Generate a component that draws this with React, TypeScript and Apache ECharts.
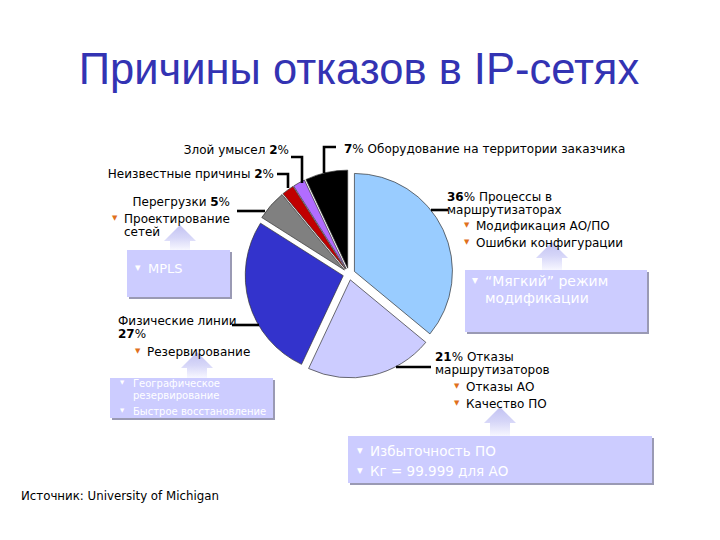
import React, { useEffect, useRef } from "react";
import * as echarts from "echarts";

// ---- chart data ----
const categories = [
  "Процессы в маршрутизаторах",
  "Отказы маршрутизаторов",
  "Физические линии",
  "Перегрузки",
  "Неизвестные причины",
  "Злой умысел",
  "Оборудование на территории заказчика",
];
const labelNames = [
  "Процессы в\nмаршрутизаторах",
  "Отказы\nмаршрутизаторов",
  "Физические линии",
  "Перегрузки",
  "Неизвестные причины",
  "Злой умысел",
  "Оборудование на территории заказчика",
];
const values = [36, 21, 27, 5, 2, 2, 7];
// where the percentage goes relative to the name
const labelPattern = ["pre", "pre", "postBreak", "post", "post", "post", "pre"];
const sliceColors = ["#99ccff", "#ccccff", "#3333cc", "#808080", "#c00000", "#b26cff", "#000000"];

const titleText = "Причины отказов в IP-сетях";
const sourceText = "Источник: University of Michigan";

const bulletLists = [
  { x: 124, y: 220, lines: ["Проектирование", "сетей"] },
  { x: 147, y: 353, lines: ["Резервирование"] },
  { x: 476, y: 227, lines: ["Модификация АО/ПО"] },
  { x: 476, y: 244, lines: ["Ошибки конфигурации"] },
  { x: 466, y: 388, lines: ["Отказы АО"] },
  { x: 466, y: 405, lines: ["Качество ПО"] },
];

const boxes = [
  { x: 127, y: 250, w: 103, h: 47, arrowX: 180, arrowTip: 225, font: 13, items: [["MPLS"]], tx: 148, ty: [268] },
  { x: 110, y: 378, w: 163, h: 40, arrowX: 197, arrowTip: 352, font: 10, items: [["Географическое", "резервирование"], ["Быстрое восстановление"]], tx: 133, ty: [383, 411] },
  { x: 465, y: 270, w: 182, h: 62, arrowX: 552, arrowTip: 242, font: 14, items: [["“Мягкий” режим", "модификации"]], tx: 485, ty: [281] },
  { x: 348, y: 436, w: 304, h: 47, arrowX: 500, arrowTip: 407, font: 13.5, items: [["Избыточность ПО"], ["Кг = 99.999 для АО"]], tx: 370, ty: [451, 471] },
];

// label placement (layout only)
const labelPlace: any[] = [
  { x: 447, y: 190, align: "left", va: "top", line: [[431, 210], [440, 210], [448, 210]] },
  { x: 435, y: 350, align: "left", va: "top", line: [[396, 367], [415, 367], [431, 367]] },
  { x: 118, y: 314, align: "left", va: "top", line: [[259, 325], [245, 325], [232, 325]] },
  { x: 230, y: 202, align: "right", va: "middle", line: [[265, 211], [250, 211], [237, 211]] },
  { x: 274, y: 174, align: "right", va: "middle", line: [[288, 188], [288, 174], [277, 174]] },
  { x: 289, y: 150, align: "right", va: "middle", line: [[302, 183], [302, 157], [291, 157]] },
  { x: 344, y: 149, align: "left", va: "middle", line: [[324, 173], [324, 147], [336, 147]] },
];

const FONT = "DejaVu Sans";

function arrowShape(cx: number, tip: number, bottom: number) {
  const hw = 16, sw = 10, hh = 16;
  return [
    [cx, tip],
    [cx + hw, tip + hh],
    [cx + sw, tip + hh],
    [cx + sw, bottom],
    [cx - sw, bottom],
    [cx - sw, tip + hh],
    [cx - hw, tip + hh],
  ];
}

export default function App() {
  const ref = useRef<HTMLDivElement>(null);
  useEffect(() => {
    if (!ref.current) return;
    const chart = echarts.init(ref.current, undefined, { renderer: "svg" });

    const graphics: any[] = [];
    graphics.push({
      type: "text",
      style: { text: titleText, x: 359, y: 69, align: "center", verticalAlign: "middle", fontSize: 43.5, fontFamily: "Liberation Sans", fill: "#3333b3" },
    });
    graphics.push({
      type: "text",
      style: { text: sourceText, x: 21, y: 496, verticalAlign: "middle", fontSize: 11.8, fontFamily: FONT, fill: "#000" },
    });

    // arrows + boxes
    boxes.forEach((b) => {
      graphics.push({
        type: "polygon",
        shape: { points: arrowShape(b.arrowX, b.arrowTip, b.y) },
        style: {
          fill: new echarts.graphic.LinearGradient(0, 0, 0, 1, [
            { offset: 0, color: "#c2c2f2" },
            { offset: 0.5, color: "#d6d6f8" },
            { offset: 1, color: "#f7f7ff" },
          ]),
        },
        z: 1,
      });
      graphics.push({ type: "rect", shape: { x: b.x + 2, y: b.y + 2, width: b.w, height: b.h }, style: { fill: "#9a9ab4" }, z: 2 });
      graphics.push({ type: "rect", shape: { x: b.x, y: b.y, width: b.w, height: b.h }, style: { fill: "#ccccff" }, z: 3 });
      b.items.forEach((lines, i) => {
        graphics.push({
          type: "text",
          style: { text: "▼", x: b.tx - 13, y: b.ty[i] - 1, verticalAlign: "middle", fontSize: b.font * 0.55, fontFamily: FONT, fill: "#ffffff" },
          z: 4,
        });
        graphics.push({
          type: "text",
          style: { text: lines.join("\n"), x: b.tx, y: b.ty[i] - b.font * 0.6, verticalAlign: "top", fontSize: b.font, lineHeight: b.font * 1.2, fontFamily: FONT, fill: "#ffffff" },
          z: 4,
        });
      });
    });

    // bullet lists
    bulletLists.forEach((bl) => {
      graphics.push({
        type: "text",
        style: { text: "▼", x: bl.x - 12, y: bl.y - 2, verticalAlign: "middle", fontSize: 7, fontFamily: FONT, fill: "#e0701c" },
        z: 5,
      });
      graphics.push({
        type: "text",
        style: { text: bl.lines.join("\n"), x: bl.x, y: bl.y - 7.5, verticalAlign: "top", fontSize: 12, lineHeight: 13, fontFamily: FONT, fill: "#000" },
        z: 5,
      });
    });

    const pieData = categories.map((c, i) => ({ name: c, value: values[i] }));

    chart.setOption({
      animation: false,
      backgroundColor: "#ffffff",
      graphic: graphics,
      series: [
        {
          // exploded slices
          type: "pie",
          center: [349, 274],
          radius: 98,
          startAngle: 90,
          clockwise: true,
          silent: true,
          selectedMode: "multiple",
          selectedOffset: 6,
          itemStyle: { borderColor: "#333", borderWidth: 0.7 },
          select: { itemStyle: { borderColor: "#333", borderWidth: 0.7 } },
          label: { show: false },
          labelLine: { show: false },
          data: pieData.map((d, i) => ({ ...d, selected: true, itemStyle: { color: sliceColors[i] } })),
        },
        {
          // label carrier (same data, invisible slices)
          type: "pie",
          center: [349, 274],
          radius: 98,
          startAngle: 90,
          clockwise: true,
          silent: true,
          z: 3,
          itemStyle: { color: "rgba(0,0,0,0)", borderWidth: 0 },
          label: {
            show: true,
            position: "outside",
            color: "#000",
            fontFamily: FONT,
            fontSize: 12,
            lineHeight: 13.5,
            formatter: (p: any) => {
              const i = p.dataIndex;
              const v = `{b|${values[i]}}%`;
              if (labelPattern[i] === "pre") return `${v} ${labelNames[i]}`;
              if (labelPattern[i] === "post") return `${labelNames[i]} ${v}`;
              return `${labelNames[i]}\n${v}`;
            },
            rich: { b: { fontWeight: "bold", fontFamily: FONT, fontSize: 12, color: "#000" } },
          },
          labelLine: { show: true, length: 10, length2: 10, smooth: false, lineStyle: { color: "#000", width: 2.6 } },
          labelLayout: (params: any) => {
            const lp = labelPlace[params.dataIndex];
            return { x: lp.x, y: lp.y, align: lp.align, verticalAlign: lp.va, labelLinePoints: lp.line };
          },
          data: pieData,
        },
      ],
    });
    return () => chart.dispose();
  }, []);
  return <div ref={ref} style={{ position: "fixed", left: 0, top: 0, width: 720, height: 540 }} />;
}
